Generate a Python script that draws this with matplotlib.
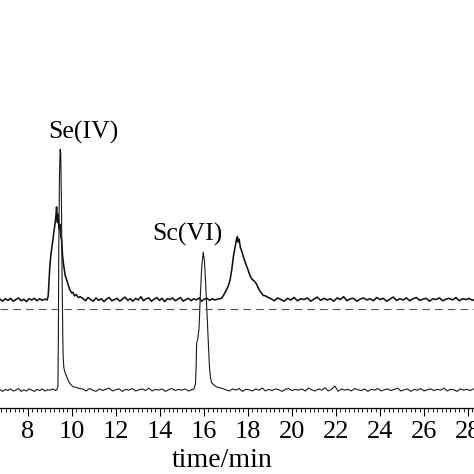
import matplotlib

matplotlib.use("Agg")
import matplotlib.pyplot as plt
import numpy as np
from matplotlib.ticker import MultipleLocator

plt.rcParams["font.family"] = ["Liberation Serif", "DejaVu Serif"]

# upper chromatogram (signal above its own baseline)
upper_time = [
    6.74, 6.86, 6.98, 7.1, 7.22, 7.34, 7.46, 7.58, 7.7, 7.82, 7.94, 8.06, 8.18, 8.3, 8.42, 8.54, 8.66, 8.78, 8.88,
    8.93, 9.0, 9.05, 9.1, 9.16, 9.22, 9.27, 9.31, 9.35, 9.38, 9.42, 9.46, 9.5, 9.54, 9.58, 9.62, 9.66, 9.7,
    9.77, 9.82, 9.87, 9.92, 10.0, 10.05, 10.12, 10.2, 10.3, 10.38,
    10.5, 10.62, 10.74, 10.86, 10.98, 11.1, 11.22, 11.34, 11.46, 11.58, 11.7, 11.82, 11.94, 12.06, 12.18,
    12.3, 12.42, 12.54, 12.66, 12.78, 12.9, 13.02, 13.14, 13.26, 13.38, 13.5, 13.62, 13.74, 13.86, 13.98,
    14.1, 14.22, 14.34, 14.46, 14.58, 14.7, 14.82, 14.94, 15.06, 15.18, 15.3, 15.42, 15.54, 15.66, 15.78,
    15.9, 16.02, 16.14, 16.26, 16.38, 16.5, 16.62, 16.72,
    16.8, 16.9, 17.0, 17.1, 17.19, 17.27, 17.34, 17.42, 17.48, 17.52, 17.56, 17.6, 17.66, 17.72, 17.8,
    17.88, 17.95, 18.03, 18.1, 18.2, 18.3, 18.4, 18.5, 18.6, 18.7, 18.8, 18.93,
    19.05, 19.2, 19.35, 19.5, 19.65, 19.8, 19.95, 20.1, 20.25, 20.4, 20.55, 20.7, 20.85, 21.0, 21.15, 21.3,
    21.45, 21.6, 21.75, 21.9, 22.05, 22.2, 22.35, 22.5, 22.65, 22.8, 22.95, 23.1, 23.25, 23.4, 23.55, 23.7,
    23.85, 24.0, 24.15, 24.3, 24.45, 24.6, 24.75, 24.9, 25.05, 25.2, 25.35, 25.5, 25.65, 25.8, 25.95, 26.1,
    26.25, 26.4, 26.55, 26.7, 26.85, 27.0, 27.15, 27.3, 27.45, 27.6, 27.75, 27.9, 28.05, 28.2, 28.3,
]
upper_signal = [
    0.2, -0.3, 0.3, -0.1, 0.4, -0.3, 0.1, 0.5, -0.2, 0.2, -0.4, 0.3, 0.0, 0.4, -0.2, 0.3, -0.1, 0.2, 0.0,
    1.0, 8.0, 11.0, 13.0, 15.5, 18.0, 20.0, 22.8, 19.0, 21.0, 17.5, 18.5, 15.5, 14.7, 11.0, 9.0, 7.5, 6.0,
    4.9, 4.0, 3.1, 2.4, 1.7, 1.9, 1.0, 1.3, 0.6, 0.8,
    0.4, -0.2, 0.6, 0.1, -0.3, 0.5, -0.1, 0.3, -0.4, 0.2, 0.6, -0.2, 0.1, 0.4, -0.3,
    0.2, 0.7, -0.1, 0.3, -0.3, 0.4, 0.0, 0.8, -0.2, 0.3, 0.5, -0.3, 0.2, 0.6, -0.1,
    0.4, -0.4, 0.3, 0.1, 0.5, -0.2, 0.2, 0.6, -0.3, 0.1, 0.4, -0.2, 0.3, 0.0, 0.5,
    -0.3, 0.2, 0.4, -0.1, 0.3, 0.0, 0.2, 0.3,
    0.4, 1.2, 2.2, 3.3, 4.9, 7.5, 10.6, 13.0, 14.8, 15.5, 14.2, 14.9, 12.8, 12.0, 10.5,
    9.2, 8.2, 7.0, 5.9, 5.0, 4.6, 3.8, 2.6, 1.8, 1.1, 1.0, 0.6,
    0.3, -0.2, 0.5, 0.1, -0.3, 0.4, 0.0, 0.6, -0.2, 0.3, 0.1, 0.5, -0.3, 0.2, 0.7, -0.1,
    0.4, 0.0, 0.3, -0.3, 0.5, 0.1, 0.8, -0.2, 0.3, 0.4, -0.3, 0.2, 0.5, 0.0, 0.3, -0.2,
    0.6, 0.1, 0.4, -0.3, 0.2, 0.7, -0.1, 0.3, 0.0, 0.5, -0.2, 0.3, 0.6, -0.1, 0.2, 0.4,
    -0.3, 0.3, 0.1, 0.5, -0.2, 0.2, 0.4, 0.0, 0.6, -0.2, 0.3, 0.1, 0.4, -0.1, 0.2,
]

# lower chromatogram
lower_time = [
    6.74, 6.86, 6.98, 7.1, 7.22, 7.34, 7.46, 7.58, 7.7, 7.82, 7.94, 8.06, 8.18, 8.3, 8.42, 8.54, 8.66, 8.78,
    8.9, 9.02, 9.14, 9.26, 9.33,
    9.37, 9.39, 9.41, 9.44, 9.47, 9.5, 9.53, 9.56, 9.59, 9.61, 9.64, 9.7, 9.77, 9.85, 9.95, 10.07, 10.2, 10.35,
    10.5, 10.65, 10.8, 10.95, 11.1, 11.25, 11.4, 11.55, 11.7, 11.85, 12.0, 12.15, 12.3, 12.45, 12.6, 12.75,
    12.9, 13.05, 13.2, 13.35, 13.5, 13.65, 13.8, 13.95, 14.1, 14.25, 14.4, 14.55, 14.7, 14.85, 15.0, 15.15,
    15.3, 15.45,
    15.55, 15.62, 15.65, 15.67, 15.72, 15.78, 15.83, 15.9, 15.97, 16.02, 16.05, 16.1, 16.15, 16.2, 16.25,
    16.3, 16.35, 16.45, 16.58, 16.7,
    16.85, 17.0, 17.15, 17.3, 17.45, 17.6, 17.75, 17.9, 18.05, 18.2, 18.35, 18.5, 18.65, 18.8, 18.95, 19.1,
    19.25, 19.4, 19.55, 19.7, 19.85, 20.0, 20.15, 20.3, 20.45, 20.6, 20.75, 20.9, 21.05, 21.2, 21.35, 21.5,
    21.65, 21.8, 21.95, 22.1, 22.25, 22.4, 22.55, 22.7, 22.85, 23.0, 23.15, 23.3, 23.45, 23.6, 23.75, 23.9,
    24.05, 24.2, 24.35, 24.5, 24.65, 24.8, 24.95, 25.1, 25.25, 25.4, 25.55, 25.7, 25.85, 26.0, 26.15, 26.3,
    26.45, 26.6, 26.75, 26.9, 27.05, 27.2, 27.35, 27.5, 27.65, 27.8, 27.95, 28.1, 28.25,
]
lower_signal = [
    0.1, -0.3, 0.2, -0.1, 0.3, -0.2, 0.0, 0.4, -0.3, 0.1, -0.2, 0.3, 0.0, -0.3, 0.2, -0.1, 0.3, -0.2,
    0.1, 0.0, 0.3, -0.1, 0.2,
    1.0, 12.0, 35.0, 52.0, 59.0, 58.0, 46.0, 28.0, 14.0, 8.0, 5.5, 4.2, 3.3, 2.2, 1.4, 0.8, 0.7, 0.4,
    0.3, -0.2, 0.4, 0.0, -0.3, 0.3, -0.1, 0.2, 0.5, -0.2, 0.1, 0.3, -0.3, 0.2, 0.0, 0.4,
    -0.2, 0.1, 0.3, -0.1, 0.5, -0.2, 0.2, 0.0, 0.3, -0.3, 0.1, 0.4, -0.1, 0.2, 0.0, 0.3,
    -0.2, 0.1,
    0.3, 1.6, 6.0, 11.5, 12.5, 15.0, 22.0, 30.0, 33.8, 32.0, 29.4, 24.0, 18.0, 12.3, 6.0,
    3.0, 1.8, 1.3, 0.8, 0.6,
    0.4, 0.1, -0.2, 0.3, 0.0, 0.4, -0.3, 0.2, 0.1, -0.2, 0.3, 0.0, 0.5, -0.2, 0.2, -0.1,
    0.3, 0.1, -0.3, 0.2, 0.4, -0.1, 0.2, 0.0, 0.3, -0.2, 0.5, 0.1, -0.2, 0.3, 0.0, 0.6,
    -0.2, 0.2, 1.0, -0.3, 0.3, 0.0, 0.2, -0.2, 0.4, 0.1, -0.1, 0.3, -0.3, 0.2, 0.0, 0.4,
    -0.2, 0.1, 0.3, -0.1, 0.2, 0.5, -0.2, 0.1, 0.3, -0.3, 0.2, 0.0, 0.4, -0.2, 0.1, 0.3,
    -0.1, 0.2, 0.0, 0.5, -0.2, 0.2, 0.1, -0.3, 0.3, 0.0, 0.2, -0.1, 0.3,
]

UPPER_BASELINE = 26.5
LOWER_BASELINE = 4.4
SEPARATOR_LEVEL = 24.3

peak_labels = ["Se(IV)", "Sc(VI)"]
label_time = [10.51, 15.23]
label_level = [67.6, 42.6]


def main() -> None:
    fig = plt.figure(figsize=(4.74, 4.74), dpi=100)
    ax = fig.add_axes([0.0, 0.139, 1.0, 0.861])

    ax.plot(upper_time, np.array(upper_signal) + UPPER_BASELINE, color="#111111", lw=1.15)
    ax.plot(lower_time, np.array(lower_signal) + LOWER_BASELINE, color="#1a1a1a", lw=0.8)
    ax.axhline(SEPARATOR_LEVEL, color="#555555", lw=0.8, dashes=(7, 4.5))

    for text, t, v in zip(peak_labels, label_time, label_level):
        ax.text(t, v, text, ha="center", va="center", fontsize=18.5)

    ax.set_xlim(6.74, 28.27)
    ax.set_ylim(0, 100)
    for side in ("left", "top", "right"):
        ax.spines[side].set_visible(False)
    ax.spines["bottom"].set_linewidth(0.9)
    ax.set_yticks([])
    ax.xaxis.set_major_locator(MultipleLocator(2))
    ax.xaxis.set_minor_locator(MultipleLocator(0.2))
    ax.tick_params(axis="x", which="major", length=6, width=0.8, pad=3, labelsize=19)
    ax.tick_params(axis="x", which="minor", length=3, width=0.6)

    fig.text(0.468, 0.014, "time/min", ha="center", va="baseline", fontsize=20)

    fig.savefig("out.png", dpi=100)
    plt.close(fig)


if __name__ == "__main__":
    main()
